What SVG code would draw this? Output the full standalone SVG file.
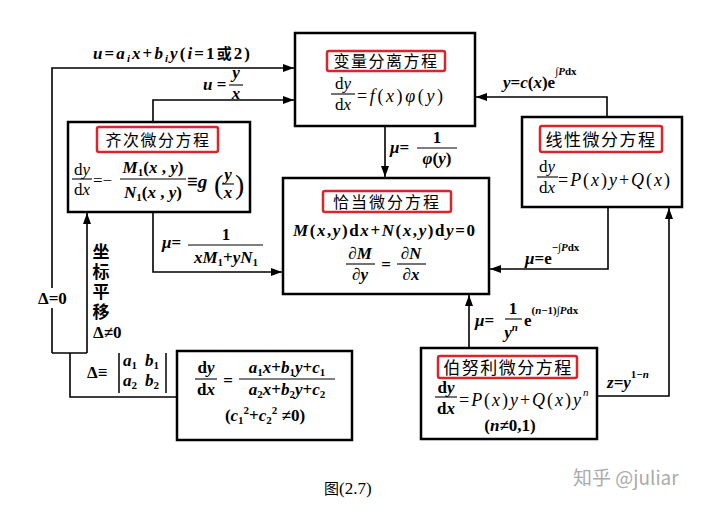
<svg xmlns="http://www.w3.org/2000/svg" width="714" height="510" viewBox="0 0 714 510">
<style>
.box{fill:#fff;stroke:#000;stroke-width:2.5}
.tag{fill:none;stroke:#d9262c;stroke-width:2.5}
.cn{font-family:"Noto Sans CJK SC","Noto Sans CJK JP",sans-serif;font-size:16px;fill:#000}
.m{font-family:"Liberation Serif","Times New Roman","DejaVu Serif",serif;font-size:17px;fill:#000}
.mb{font-family:"Liberation Serif","Times New Roman","DejaVu Serif",serif;font-size:17px;font-weight:bold;fill:#000}
.i{font-style:italic}
.s{font-size:11px}
.ln{stroke:#000;stroke-width:1.6;fill:none}
.fr{stroke:#000;stroke-width:1.1}
.wm{font-family:"Noto Sans CJK SC",sans-serif;font-size:19px;fill:#aaa}
</style>
<defs>
<marker id="ah" markerUnits="userSpaceOnUse" markerWidth="12" markerHeight="10" refX="11" refY="4" orient="auto">
<path d="M0,0 L11,4 L0,8 Z" fill="#000"/>
</marker>
</defs>
<rect width="714" height="510" fill="#fff"/>

<g id="connectors">
<path class="ln" d="M177,397 H70 V353"/>
<path class="ln" d="M52,353 H87"/>
<path class="ln" d="M52,353 V68 H294" marker-end="url(#ah)"/>
<path class="ln" d="M87,353 V213" marker-end="url(#ah)"/>
<path class="ln" d="M153,122 V100 H294" marker-end="url(#ah)"/>
<path class="ln" d="M385,127 V177" marker-end="url(#ah)"/>
<path class="ln" d="M607,117 V97 H476" marker-end="url(#ah)"/>
<path class="ln" d="M153,213 V272 H282" marker-end="url(#ah)"/>
<path class="ln" d="M608,208 V269 H490" marker-end="url(#ah)"/>
<path class="ln" d="M469,347 V295" marker-end="url(#ah)"/>
<path class="ln" d="M598,396 H669 V208" marker-end="url(#ah)"/>
</g>

<g id="labels">
<text class="mb" x="93" y="59" textLength="157"><tspan class="i">u</tspan>=<tspan class="i">a</tspan><tspan class="s i" dy="3">i</tspan><tspan class="i" dy="-3">x</tspan>+<tspan class="i">b</tspan><tspan class="s i" dy="3">i</tspan><tspan class="i" dy="-3">y</tspan>(<tspan class="i">i</tspan>=1<tspan style="font-family:'Noto Sans CJK SC',sans-serif;font-size:15px">或</tspan>2)</text>
<text class="mb" x="203" y="90"><tspan class="i">u</tspan> =</text>
<text class="mb i" x="236" y="78" text-anchor="middle">y</text>
<line class="fr" x1="229" y1="85" x2="243" y2="85"/>
<text class="mb i" x="236" y="99" text-anchor="middle">x</text>

<text class="mb" x="390" y="153"><tspan class="i">μ</tspan>=</text>
<text class="mb" x="437" y="143" text-anchor="middle">1</text>
<line class="fr" x1="417" y1="148" x2="457" y2="148"/>
<text class="mb" x="437" y="164" text-anchor="middle"><tspan class="i">φ</tspan>(<tspan class="i">y</tspan>)</text>

<text class="mb" x="503" y="88"><tspan class="i">y</tspan>=<tspan class="i">c</tspan>(<tspan class="i">x</tspan>)e<tspan class="s" dy="-13">∫<tspan class="i">P</tspan>dx</tspan></text>

<text class="mb" x="162" y="248"><tspan class="i">μ</tspan>=</text>
<text class="mb" x="226" y="240" text-anchor="middle">1</text>
<line class="fr" x1="188" y1="245" x2="263" y2="245"/>
<text class="mb" x="226" y="263" text-anchor="middle"><tspan class="i">xM</tspan><tspan class="s" dy="3">1</tspan><tspan dy="-3">+</tspan><tspan class="i">yN</tspan><tspan class="s" dy="3">1</tspan></text>

<text class="mb" x="525" y="264"><tspan class="i">μ</tspan>=e<tspan class="s" dy="-13">−∫<tspan class="i">P</tspan>dx</tspan></text>

<text class="mb" x="475" y="326"><tspan class="i">μ</tspan>=</text>
<text class="mb" x="513" y="314" text-anchor="middle">1</text>
<line class="fr" x1="505" y1="319" x2="522" y2="319"/>
<text class="mb" x="511" y="338" text-anchor="middle"><tspan class="i">y</tspan><tspan class="s i" dy="-7">n</tspan></text>
<text class="mb" x="524" y="326">e<tspan class="s" dy="-12">(<tspan class="i">n</tspan>−1)∫<tspan class="i">P</tspan>dx</tspan></text>

<text class="mb" x="607" y="388"><tspan class="i">z</tspan>=<tspan class="i">y</tspan><tspan class="s" dy="-10">1−<tspan class="i">n</tspan></tspan></text>

<rect x="37" y="288" width="36" height="20" fill="#fff"/>
<text class="mb" x="38" y="304">Δ=0</text>

<text class="cn" x="101" y="243" writing-mode="tb" style="font-size:17px;font-weight:bold;letter-spacing:3px">坐标平移</text>
<text class="mb" x="93" y="338">Δ≠0</text>

<text class="mb" x="87" y="378">Δ≡</text>
<line class="fr" x1="119" y1="353" x2="119" y2="393" style="stroke-width:1.5"/>
<line class="fr" x1="166" y1="353" x2="166" y2="393" style="stroke-width:1.5"/>
<text class="mb" x="123" y="366"><tspan class="i">a</tspan><tspan class="s" dy="3">1</tspan><tspan class="i" dx="8" dy="-3">b</tspan><tspan class="s" dy="3">1</tspan></text>
<text class="mb" x="123" y="386"><tspan class="i">a</tspan><tspan class="s" dy="3">2</tspan><tspan class="i" dx="8" dy="-3">b</tspan><tspan class="s" dy="3">2</tspan></text>
</g>

<g id="node-separable">
<rect class="box" x="295" y="33" width="180" height="93"/>
<rect class="tag" x="327" y="51" width="118" height="20" rx="2"/>
<text class="cn" x="386" y="67" text-anchor="middle" style="font-size:16px;letter-spacing:1.5px">变量分离方程</text>
<text class="m" x="343" y="89" text-anchor="middle">d<tspan class="i">y</tspan></text>
<line class="fr" x1="331" y1="94" x2="355" y2="94"/>
<text class="m" x="343" y="110" text-anchor="middle">d<tspan class="i">x</tspan></text>
<text class="m" x="357" y="102" textLength="86" style="font-size:18px">=<tspan class="i">f</tspan>(<tspan class="i">x</tspan>)<tspan class="i">φ</tspan>(<tspan class="i">y</tspan>)</text>
</g>

<g id="node-linear">
<rect class="box" x="522" y="117" width="160" height="90"/>
<rect class="tag" x="540" y="126" width="122" height="26" rx="2"/>
<text class="cn" x="601" y="146" text-anchor="middle" style="font-size:17px;letter-spacing:1.5px">线性微分方程</text>
<text class="m" x="547" y="172" text-anchor="middle">d<tspan class="i">y</tspan></text>
<line class="fr" x1="537" y1="177" x2="558" y2="177"/>
<text class="m" x="547" y="193" text-anchor="middle">d<tspan class="i">x</tspan></text>
<text class="m" x="558" y="186" textLength="112" style="font-size:18px">=<tspan class="i">P</tspan>(<tspan class="i">x</tspan>)<tspan class="i">y</tspan>+<tspan class="i">Q</tspan>(<tspan class="i">x</tspan>)</text>
</g>

<g id="node-homogeneous">
<rect class="box" x="68" y="122" width="182" height="90"/>
<rect class="tag" x="97" y="127" width="121" height="25" rx="2"/>
<text class="cn" x="158" y="146" text-anchor="middle" style="font-size:16px;letter-spacing:1.5px">齐次微分方程</text>
<text class="m" x="82" y="175" text-anchor="middle">d<tspan class="i">y</tspan></text>
<line class="fr" x1="72" y1="179" x2="92" y2="179"/>
<text class="m" x="82" y="195" text-anchor="middle">d<tspan class="i">x</tspan></text>
<text class="m" x="93" y="186">=−</text>
<text class="mb" x="153" y="173" text-anchor="middle"><tspan class="i">M</tspan><tspan class="s" dy="3">1</tspan><tspan dy="-3">(</tspan><tspan class="i">x</tspan> , <tspan class="i">y</tspan>)</text>
<line class="fr" x1="120" y1="179" x2="186" y2="179"/>
<text class="mb" x="153" y="198" text-anchor="middle"><tspan class="i">N</tspan><tspan class="s" dy="3">1</tspan><tspan dy="-3">(</tspan><tspan class="i">x</tspan> , <tspan class="i">y</tspan>)</text>
<text class="mb" x="187" y="188" style="font-size:19px">≡<tspan class="i">g</tspan></text>
<text class="m" x="214" y="194" style="font-size:28px">(</text>
<text class="mb i" x="228" y="180" text-anchor="middle">y</text>
<line class="fr" x1="222" y1="184" x2="234" y2="184"/>
<text class="mb i" x="228" y="198" text-anchor="middle">x</text>
<text class="m" x="235" y="194" style="font-size:28px">)</text>
</g>

<g id="node-exact">
<rect class="box" x="283" y="178" width="206" height="116"/>
<rect class="tag" x="323" y="191" width="128" height="21" rx="2"/>
<text class="cn" x="387" y="208" text-anchor="middle" style="font-size:16px;letter-spacing:2px">恰当微分方程</text>
<text class="mb" x="293" y="236" textLength="182"><tspan class="i">M</tspan>(<tspan class="i">x</tspan>,<tspan class="i">y</tspan>)d<tspan class="i">x</tspan>+<tspan class="i">N</tspan>(<tspan class="i">x</tspan>,<tspan class="i">y</tspan>)d<tspan class="i">y</tspan>=0</text>
<text class="mb" x="360" y="259" text-anchor="middle">∂<tspan class="i">M</tspan></text>
<line class="fr" x1="346" y1="264" x2="375" y2="264"/>
<text class="mb" x="360" y="280" text-anchor="middle">∂<tspan class="i">y</tspan></text>
<text class="mb" x="386" y="270" text-anchor="middle">=</text>
<text class="mb" x="411" y="259" text-anchor="middle">∂<tspan class="i">N</tspan></text>
<line class="fr" x1="397" y1="264" x2="426" y2="264"/>
<text class="mb" x="411" y="280" text-anchor="middle">∂<tspan class="i">x</tspan></text>
</g>

<g id="node-bernoulli">
<rect class="box" x="421" y="348" width="176" height="91"/>
<rect class="tag" x="438" y="356" width="139" height="22" rx="2"/>
<text class="cn" x="508" y="374" text-anchor="middle" style="font-size:17px;letter-spacing:1.5px">伯努利微分方程</text>
<text class="mb" x="446" y="393" text-anchor="middle">d<tspan class="i">y</tspan></text>
<line class="fr" x1="435" y1="397" x2="457" y2="397"/>
<text class="mb" x="446" y="414" text-anchor="middle">d<tspan class="i">x</tspan></text>
<text class="m" x="459" y="406" textLength="122" style="font-size:18px">=<tspan class="i">P</tspan>(<tspan class="i">x</tspan>)<tspan class="i">y</tspan>+<tspan class="i">Q</tspan>(<tspan class="i">x</tspan>)<tspan class="i">y</tspan></text>
<text class="m s i" x="583" y="396">n</text>
<text class="mb" x="510" y="431" text-anchor="middle">(<tspan class="i">n</tspan>≠0,1)</text>
</g>

<g id="node-linear-fraction">
<rect class="box" x="177" y="351" width="175" height="89"/>
<text class="mb" x="206" y="373" text-anchor="middle">d<tspan class="i">y</tspan></text>
<line class="fr" x1="195" y1="379" x2="217" y2="379"/>
<text class="mb" x="206" y="395" text-anchor="middle">d<tspan class="i">x</tspan></text>
<text class="mb" x="228" y="386" text-anchor="middle">=</text>
<text class="mb" x="287" y="373" text-anchor="middle"><tspan class="i">a</tspan><tspan class="s" dy="3">1</tspan><tspan class="i" dy="-3">x</tspan>+<tspan class="i">b</tspan><tspan class="s" dy="3">1</tspan><tspan class="i" dy="-3">y</tspan>+<tspan class="i">c</tspan><tspan class="s" dy="3">1</tspan></text>
<line class="fr" x1="239" y1="379" x2="335" y2="379"/>
<text class="mb" x="287" y="395" text-anchor="middle"><tspan class="i">a</tspan><tspan class="s" dy="3">2</tspan><tspan class="i" dy="-3">x</tspan>+<tspan class="i">b</tspan><tspan class="s" dy="3">2</tspan><tspan class="i" dy="-3">y</tspan>+<tspan class="i">c</tspan><tspan class="s" dy="3">2</tspan></text>
<text class="mb" x="265" y="421" text-anchor="middle">(<tspan class="i">c</tspan><tspan class="s" dy="3">1</tspan><tspan class="s" dy="-10">2</tspan><tspan dy="7">+</tspan><tspan class="i">c</tspan><tspan class="s" dy="3">2</tspan><tspan class="s" dy="-10">2</tspan><tspan dy="7"> ≠0)</tspan></text>
</g>

<g id="caption">
<text class="cn" x="324" y="494" style="font-size:15px">图<tspan style="font-family:'Liberation Serif',serif;font-size:17px">(2.7)</tspan></text>
<text class="wm" x="573" y="485">知乎 @juliar</text>
</g>
</svg>
